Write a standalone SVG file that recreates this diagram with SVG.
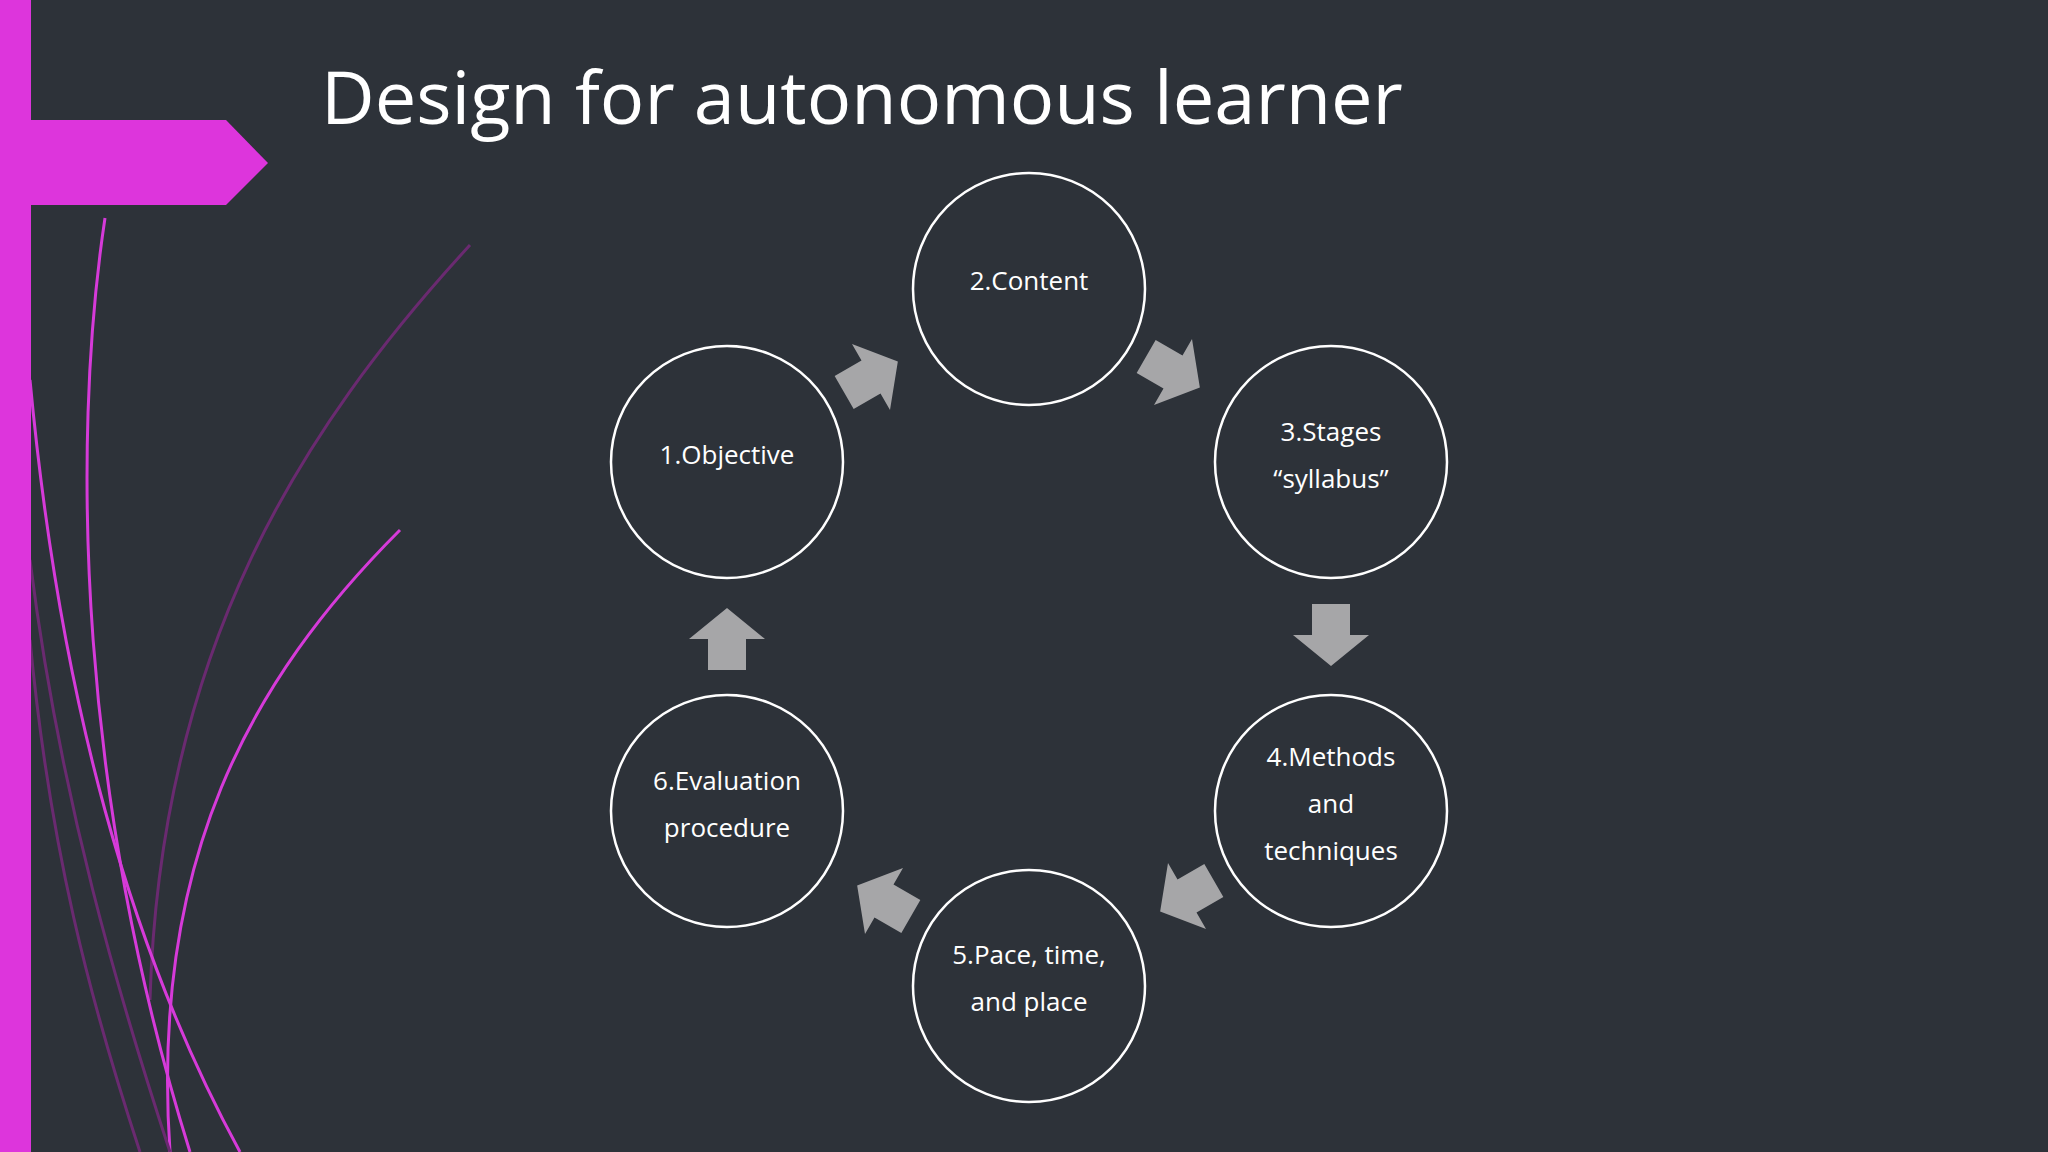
<svg xmlns="http://www.w3.org/2000/svg" width="2048" height="1152" viewBox="0 0 2048 1152">
<style>
.c{fill:none;stroke:#fff;stroke-width:2.5}
.t{fill:#fff;font-family:"Open Sans","Noto Sans",sans-serif;font-size:26px;text-anchor:middle}
.a{fill:#a6a6a8}
.m{fill:none;stroke:#d63ad9;stroke-width:3}
.d{fill:none;stroke:#6a2a70;stroke-width:3}
</style>
<defs><polygon id="ar" points="0,-31 38,0 19,0 19,31 -19,31 -19,0 -38,0"/></defs>
<rect width="2048" height="1152" fill="#2d3239"/>
<g id="decor">
<path class="d" d="M470,245 C300,430 160,650 150,1000"/>
<path class="m" d="M400,530 C250,680 150,860 170,1152"/>
<path class="m" d="M105,218 C70,450 80,800 190,1152"/>
<path class="m" d="M30,380 C60,700 130,950 240,1152"/>
<path class="d" d="M30,560 C60,800 120,1000 170,1152"/>
<path class="d" d="M30,640 C50,850 90,1000 140,1152"/>
<rect x="0" y="0" width="31" height="1152" fill="#dd35dc"/>
<polygon points="31,120 226,120 268,163 226,205 31,205" fill="#dd35dc"/>
</g>
<text x="321" y="124" fill="#fff" font-family="'Open Sans','Noto Sans',sans-serif" font-size="74">Design for autonomous learner</text>
<g id="connectors">
<use href="#ar" class="a" transform="translate(871,377) rotate(60)"/>
<use href="#ar" class="a" transform="translate(1173,372) rotate(120)"/>
<use href="#ar" class="a" transform="translate(1331,635) rotate(180)"/>
<use href="#ar" class="a" transform="translate(1187,896) rotate(240)"/>
<use href="#ar" class="a" transform="translate(884,901) rotate(300)"/>
<use href="#ar" class="a" transform="translate(727,639)"/>
</g>
<g id="n1"><circle class="c" cx="727" cy="462" r="116"/><text class="t" x="727" y="464">1.Objective</text></g>
<g id="n2"><circle class="c" cx="1029" cy="289" r="116"/><text class="t" x="1029" y="290">2.Content</text></g>
<g id="n3"><circle class="c" cx="1331" cy="462" r="116"/><text class="t" x="1331" y="441">3.Stages</text><text class="t" x="1331" y="488">“syllabus”</text></g>
<g id="n4"><circle class="c" cx="1331" cy="811" r="116"/><text class="t" x="1331" y="766">4.Methods</text><text class="t" x="1331" y="813">and</text><text class="t" x="1331" y="860">techniques</text></g>
<g id="n5"><circle class="c" cx="1029" cy="986" r="116"/><text class="t" x="1029" y="964">5.Pace, time,</text><text class="t" x="1029" y="1011">and place</text></g>
<g id="n6"><circle class="c" cx="727" cy="811" r="116"/><text class="t" x="727" y="790">6.Evaluation</text><text class="t" x="727" y="837">procedure</text></g>
</svg>
